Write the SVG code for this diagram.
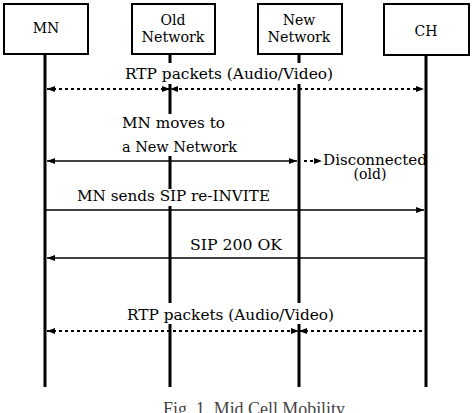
<svg xmlns="http://www.w3.org/2000/svg" width="474" height="413" viewBox="0 0 474 413">
<style>
.box{fill:#fff;stroke:#000;stroke-width:2}
.life{stroke:#000;stroke-width:3}
.t{font-family:"DejaVu Serif","Liberation Serif",serif;font-size:14px;fill:#000}
.bg{fill:#fff}
.msg{stroke:#000;stroke-width:1.5;fill:none}
.dot{stroke:#000;stroke-width:2;stroke-dasharray:3 3;fill:none}
.cap{font-family:"Liberation Serif","Times New Roman",serif;font-size:18px;fill:#444}
</style>
<defs>
<marker id="ah" viewBox="0 0 8 6" refX="8" refY="3" markerWidth="8" markerHeight="6" markerUnits="userSpaceOnUse" orient="auto-start-reverse">
<path d="M0,0 L8,3 L0,6 z" fill="#000"/>
</marker>
</defs>
<rect width="474" height="413" fill="#fff"/>
<g id="mn">
<rect class="box" x="4" y="4" width="84" height="50"/>
<text class="t" x="46" y="33" text-anchor="middle">MN</text>
<line class="life" x1="45" y1="54" x2="45" y2="387"/>
</g>
<g id="old-network">
<rect class="box" x="132" y="4" width="83" height="50"/>
<text class="t" x="173" y="25" text-anchor="middle">Old</text>
<text class="t" x="173" y="42" text-anchor="middle" textLength="63" lengthAdjust="spacingAndGlyphs">Network</text>
<line class="life" x1="170" y1="54" x2="170" y2="387"/>
</g>
<g id="new-network">
<rect class="box" x="258" y="4" width="84" height="50"/>
<text class="t" x="299" y="25" text-anchor="middle">New</text>
<text class="t" x="299" y="42" text-anchor="middle" textLength="63" lengthAdjust="spacingAndGlyphs">Network</text>
<line class="life" x1="299" y1="54" x2="299" y2="387"/>
</g>
<g id="ch">
<rect class="box" x="384" y="4" width="85" height="51"/>
<text class="t" x="426" y="36" text-anchor="middle">CH</text>
<line class="life" x1="426" y1="55" x2="426" y2="387"/>
</g>
<g id="connectors">
<rect class="bg" x="123" y="63" width="213" height="21"/>
<rect class="bg" x="120" y="114" width="120" height="42"/>
<rect class="bg" x="75" y="189" width="197" height="17"/>
<rect class="bg" x="125" y="303" width="211" height="21"/>
<line class="dot" x1="47" y1="89" x2="424" y2="89" marker-start="url(#ah)" marker-end="url(#ah)"/>
<path d="M162,86 L170,89 L162,92 z M178,86 L170,89 L178,92 z" fill="#000"/>
<text class="t" x="125" y="79" textLength="208" lengthAdjust="spacingAndGlyphs">RTP packets (Audio/Video)</text>
<line class="msg" x1="47" y1="161" x2="297" y2="161" marker-start="url(#ah)" marker-end="url(#ah)"/>
<text class="t" x="122" y="128" textLength="103" lengthAdjust="spacingAndGlyphs">MN moves to</text>
<text class="t" x="122" y="152" textLength="115" lengthAdjust="spacingAndGlyphs">a New Network</text>
<line class="dot" x1="304" y1="161" x2="322" y2="161" marker-end="url(#ah)"/>
<text class="t" x="323" y="165" textLength="104" lengthAdjust="spacingAndGlyphs">Disconnected</text>
<text class="t" x="370" y="179" text-anchor="middle">(old)</text>
<line class="msg" x1="46" y1="210" x2="424" y2="210" marker-end="url(#ah)"/>
<text class="t" x="77" y="201" textLength="193" lengthAdjust="spacingAndGlyphs">MN sends SIP re-INVITE</text>
<line class="msg" x1="425" y1="258" x2="47" y2="258" marker-end="url(#ah)"/>
<text class="t" x="190" y="250" textLength="92" lengthAdjust="spacingAndGlyphs">SIP 200 OK</text>
<line class="dot" x1="47" y1="331" x2="425" y2="331" marker-start="url(#ah)"/>
<path d="M291,328 L299,331 L291,334 z M307,328 L299,331 L307,334 z" fill="#000"/>
<text class="t" x="127" y="320" textLength="207" lengthAdjust="spacingAndGlyphs">RTP packets (Audio/Video)</text>
</g>
<text class="cap" x="163" y="415" textLength="182" lengthAdjust="spacingAndGlyphs">Fig. 1. Mid Cell Mobility</text>
</svg>
